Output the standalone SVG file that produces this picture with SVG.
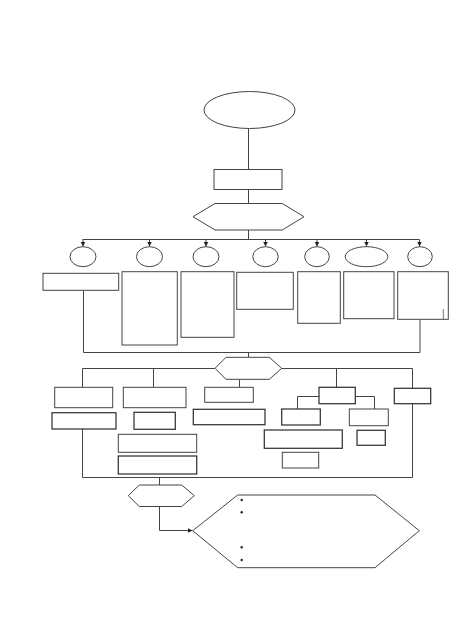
<svg xmlns="http://www.w3.org/2000/svg" width="474" height="632" viewBox="0 0 474 632">
<defs>
<marker id="arr" viewBox="0 0 6 6" refX="6" refY="3" markerWidth="4.5" markerHeight="4.5" orient="auto" markerUnits="userSpaceOnUse">
<path d="M0,0 L6,3 L0,6 Z" fill="#222"/>
</marker>
</defs>
<style>
.n{fill:#fff;stroke:#444;stroke-width:1}
.t{fill:#fff;stroke:#333;stroke-width:1.25}
.c{fill:none;stroke:#444;stroke-width:1}
.a{fill:none;stroke:#444;stroke-width:1;marker-end:url(#arr)}
.txt{font-family:"Liberation Sans",Arial,sans-serif;font-size:10px;fill:#555}
</style>
<rect width="474" height="632" fill="#fff"/>
<g id="connectors">
<path class="c" d="M248.5,128.5 V169.5"/>
<path class="c" d="M248.5,189.5 V203.5"/>
<path class="c" d="M248.5,230 V239.5"/>
<path class="c" d="M82.5,239.5 H419.5"/>
<path class="a" d="M83,239.5 V246.5"/>
<path class="a" d="M149.5,239.5 V246.5"/>
<path class="a" d="M206,239.5 V246.5"/>
<path class="a" d="M265.5,239.5 V246.5"/>
<path class="a" d="M317,239.5 V246.5"/>
<path class="a" d="M366.5,239.5 V246.5"/>
<path class="a" d="M419.5,239.5 V246.5"/>
<path class="c" d="M83.5,290.5 V352.5 H420 V319.5"/>
<path class="c" d="M248.5,352.5 V357.5"/>
<path class="c" d="M215,368.5 H82.5 V387.5"/>
<path class="c" d="M281.5,368.5 H412.5 V388.5"/>
<path class="c" d="M153.5,368.5 V387.5"/>
<path class="c" d="M336.5,368.5 V387.5"/>
<path class="c" d="M239.5,379.5 V387.5"/>
<path class="c" d="M319,396.5 H297.5 V409"/>
<path class="c" d="M355.5,396.5 H374.5 V409"/>
<path class="c" d="M82.5,429 V477.5 H412.5 V403.5"/>
<path class="c" d="M159.5,477.5 V485"/>
<path class="c" d="M159.5,506.5 V530.5 H192.5" marker-end="url(#arr)"/>
</g>
<g id="start"><ellipse class="n" cx="249.5" cy="110" rx="45.5" ry="18.5"/></g>
<g id="box1"><rect class="n" x="214" y="169.5" width="68" height="20"/></g>
<g id="hex1"><polygon class="n" points="193,216.7 215,203.5 282.3,203.5 304,216.7 282.3,230 215,230"/></g>
<g id="o1"><ellipse class="n" cx="83" cy="256.7" rx="13" ry="10"/></g>
<g id="o2"><ellipse class="n" cx="149.5" cy="256.7" rx="13" ry="10"/></g>
<g id="o3"><ellipse class="n" cx="206" cy="256.7" rx="13" ry="10"/></g>
<g id="o4"><ellipse class="n" cx="265.5" cy="256.7" rx="12.7" ry="10"/></g>
<g id="o5"><ellipse class="n" cx="317" cy="256.7" rx="12.3" ry="10"/></g>
<g id="o6"><ellipse class="n" cx="366.5" cy="256.7" rx="21.3" ry="10"/></g>
<g id="o7"><ellipse class="n" cx="420" cy="256.7" rx="12.3" ry="10"/></g>
<g id="r1"><rect class="n" x="43" y="273.3" width="75.7" height="17"/></g>
<g id="r2"><rect class="n" x="122" y="271.7" width="55.3" height="73.3"/></g>
<g id="r3"><rect class="n" x="181" y="271.7" width="53" height="65.6"/></g>
<g id="r4"><rect class="n" x="236.7" y="272.3" width="56.6" height="37"/></g>
<g id="r5"><rect class="n" x="297.7" y="271.7" width="42.6" height="51.6"/></g>
<g id="r6"><rect class="n" x="343.7" y="271.7" width="50.3" height="47"/></g>
<g id="r7"><rect class="n" x="397.7" y="271.7" width="50.6" height="47.6"/><text class="txt" x="443.3" y="317" text-anchor="middle">|</text></g>
<g id="hex2"><polygon class="n" points="215,368.3 226,357.3 269.3,357.3 281.7,368.3 269.3,379.3 226,379.3"/></g>
<g id="a1"><rect class="n" x="54.7" y="387.3" width="58" height="20.4"/></g>
<g id="a2"><rect class="t" x="52" y="412.7" width="64" height="16.3"/></g>
<g id="b1"><rect class="n" x="123.3" y="387.3" width="62.7" height="20.4"/></g>
<g id="b2"><rect class="t" x="134" y="412.3" width="41.3" height="17"/></g>
<g id="b3"><rect class="n" x="118.3" y="434.3" width="78.4" height="18"/></g>
<g id="b4"><rect class="t" x="118.3" y="456" width="78.4" height="18"/></g>
<g id="c1"><rect class="n" x="204.7" y="387.3" width="48.6" height="15"/></g>
<g id="c2"><rect class="t" x="193.3" y="409.3" width="71.7" height="15.4"/></g>
<g id="d1"><rect class="t" x="319" y="387.3" width="36.3" height="16.4"/></g>
<g id="d2"><rect class="t" x="281.7" y="409" width="38.6" height="16"/></g>
<g id="d3"><rect class="n" x="349.3" y="409" width="39" height="16.7"/></g>
<g id="d4"><rect class="t" x="264.3" y="430" width="78" height="18.3"/></g>
<g id="d5"><rect class="n" x="282.3" y="452.3" width="36.4" height="15.7"/></g>
<g id="d6"><rect class="t" x="357" y="430.3" width="28.3" height="15"/></g>
<g id="e1"><rect class="t" x="394.3" y="388.3" width="36.4" height="15.4"/></g>
<g id="hex3"><polygon class="n" points="128.3,495.7 139.3,485 181.7,485 194.3,495.7 181.7,506.5 139.3,506.5"/></g>
<g id="hex4"><polygon class="n" points="192.7,530.7 237.7,495 375,495 419.3,530.7 375,567.7 237.7,567.7"/>
<circle cx="241.7" cy="500" r="1.2" fill="#222"/>
<circle cx="241.7" cy="512.3" r="1.2" fill="#222"/>
<circle cx="241.7" cy="547.3" r="1.2" fill="#222"/>
<circle cx="241.7" cy="560" r="1.2" fill="#222"/>
</g>
</svg>
